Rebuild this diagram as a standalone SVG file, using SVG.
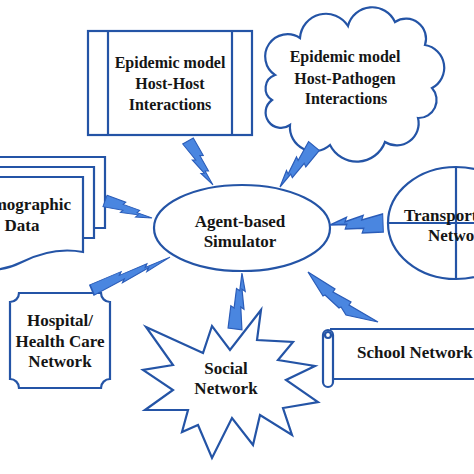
<svg xmlns="http://www.w3.org/2000/svg" width="474" height="474" viewBox="0 0 474 474">
<style>
.s{fill:#fff;stroke:#2454a6;stroke-width:2.2;stroke-linejoin:miter}
.ln{fill:none;stroke:#2454a6;stroke-width:2.2}
.b{fill:#4a86e0;stroke:#2a5cb8;stroke-width:1.2;vector-effect:non-scaling-stroke;stroke-linejoin:miter}
.t{font-family:"Liberation Serif","Times New Roman",serif;font-weight:bold;font-size:17px;fill:#151515;text-anchor:middle}
.t16{font-size:16px}
</style>
<defs>
<path id="bolt" d="M0,-7 L24,-7 L22,-3.5 L43,-3.5 L41,0 L60,0 L41,5.5 L43,2 L22,6.5 L24,3 L0,7 Z"/>
</defs>
<rect width="474" height="474" fill="#fff"/>

<g id="host-host">
<rect class="s" x="88" y="31" width="164" height="104"/>
<line class="ln" x1="108" y1="31" x2="108" y2="135"/>
<line class="ln" x1="232" y1="31" x2="232" y2="135"/>
<text class="t t16" x="170" y="68">Epidemic model</text>
<text class="t t16" x="170" y="89">Host-Host</text>
<text class="t t16" x="170" y="110">Interactions</text>
</g>

<g id="host-pathogen">
<path class="s" d="M275,75 A22,22 0 0 1 300,38 A26,26 0 0 1 348,26 A25,25 0 0 1 395,22 A20,20 0 0 1 425,45 A23,23 0 0 1 432,88 A18,18 0 0 1 418,118 A22,22 0 0 1 385,142 A30,30 0 0 1 330,145 A24,24 0 0 1 290,125 A15,15 0 0 1 272,100 A14,14 0 0 1 275,75 Z"/>
<text class="t t16" x="345" y="62">Epidemic model</text>
<text class="t t16" x="345" y="84">Host-Pathogen</text>
<text class="t t16" x="346" y="104">Interactions</text>
</g>

<g id="demographic">
<path class="s" d="M-10,157 H105 V228 H94"/>
<path class="s" d="M-10,167 H94 V238 H83"/>
<path class="s" d="M-10,177 H83 V252 C62,248 42,252 22,262 C10,268 0,270 -10,270 Z"/>
<text class="t" x="22" y="210">Demographic</text>
<text class="t" x="22" y="231">Data</text>
</g>

<g id="simulator">
<ellipse class="s" cx="242" cy="228" rx="88" ry="43"/>
<text class="t" x="240" y="227">Agent-based</text>
<text class="t" x="240" y="247">Simulator</text>
</g>

<g id="transport">
<ellipse class="s" cx="456" cy="223" rx="68" ry="56"/>
<line class="ln" x1="388" y1="223" x2="474" y2="223"/>
<line class="ln" x1="456" y1="167" x2="456" y2="279"/>
<text class="t" x="404" y="221" style="text-anchor:start">Transport</text>
<text class="t" x="428" y="241" style="text-anchor:start">Network</text>
</g>

<g id="hospital">
<path class="s" d="M19,293 H101 A9,9 0 0 0 110,302 V379 A9,9 0 0 0 101,388 H19 A9,9 0 0 0 10,379 V302 A9,9 0 0 0 19,293 Z"/>
<text class="t" x="60" y="326">Hospital/</text>
<text class="t" x="60" y="347">Health Care</text>
<text class="t" x="60" y="367">Network</text>
</g>

<g id="social">
<path class="s" d="M146,327 L203,353 L212,326 L230,350 L261,310 L257,340 L293,342 L278,360 L315,366 L286,380 L318,402 L283,408 L292,435 L260,415 L253,445 L232,418 L212,458 L198,425 L182,432 L188,410 L145,410 L173,390 L143,370 L173,365 Z"/>
<text class="t" x="226" y="374">Social</text>
<text class="t" x="226" y="394">Network</text>
</g>

<g id="school">
<path class="s" d="M330,329 H480 V379 H330"/>
<rect class="s" x="323" y="330" width="10" height="57" rx="5"/>
<circle class="ln" cx="328" cy="335" r="3"/>
<text class="t" x="357" y="358" style="text-anchor:start">School Network</text>
</g>

<g id="connectors">
<use href="#bolt" class="b" transform="translate(188,141) rotate(60.4) scale(0.843,0.87)"/>
<use href="#bolt" class="b" transform="translate(314,146) rotate(129.7) scale(0.888,1)"/>
<use href="#bolt" class="b" transform="translate(105,201) rotate(19.9) scale(0.833,0.86)"/>
<use href="#bolt" class="b" transform="translate(92,290) rotate(-22.9) scale(1.41,0.8)"/>
<use href="#bolt" class="b" transform="translate(235,329) rotate(-82.9) scale(0.94,1)"/>
<use href="#bolt" class="b" transform="translate(383,223) rotate(177.8) scale(0.883,1.3)"/>
<path class="b" d="M308,272 L335,289 L333,292 L351,302 L349,305 L378,322 L346,315 L341,307 L339,308 L325,295 L323,296 Z"/>
</g>
</svg>
